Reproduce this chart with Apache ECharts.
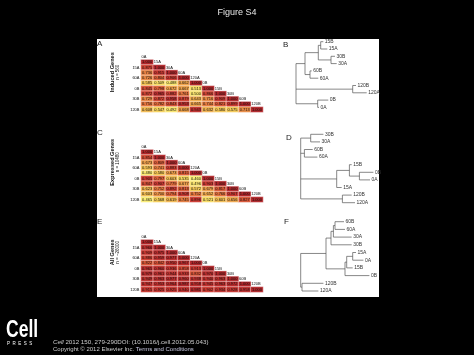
<!DOCTYPE html>
<html><head><meta charset="utf-8">
<script src="https://cdn.jsdelivr.net/npm/echarts@6/dist/echarts.min.js"></script>
<style>html,body{margin:0;padding:0;background:#000}#c{width:474px;height:355px}</style>
</head><body><div id="c"></div>
<script>
// ---------- data ----------
const samples = ['0A','15A','30A','60A','120A','0B','15B','30B','60B','120B'];
const induced = [
  [1.000],
  [0.875,1.000],
  [0.736,0.915,1.000],
  [0.726,0.804,0.906,1.000],
  [0.585,0.509,0.488,0.662,1.000],
  [0.845,0.798,0.672,0.667,0.513,1.000],
  [0.872,0.965,0.882,0.761,0.500,0.866,1.000],
  [0.729,0.872,0.958,0.879,0.643,0.716,0.909,1.000],
  [0.756,0.782,0.843,0.953,0.665,0.744,0.821,0.899,1.000],
  [0.608,0.547,0.492,0.668,0.943,0.632,0.580,0.575,0.713,1.000]
];
const expressed = [
  [1.000],
  [0.854,1.000],
  [0.673,0.809,1.000],
  [0.593,0.741,0.883,1.000],
  [0.480,0.580,0.673,0.815,1.000],
  [0.905,0.797,0.603,0.535,0.460,1.000],
  [0.847,0.907,0.779,0.677,0.496,0.903,1.000],
  [0.623,0.752,0.892,0.813,0.572,0.679,0.817,1.000],
  [0.603,0.700,0.794,0.908,0.752,0.652,0.766,0.907,1.000],
  [0.465,0.568,0.619,0.745,0.896,0.521,0.601,0.656,0.827,1.000]
];
const allGenes = [
  [1.000],
  [0.966,1.000],
  [0.909,0.975,1.000],
  [0.886,0.959,0.977,1.000],
  [0.822,0.842,0.950,0.967,1.000],
  [0.965,0.960,0.936,0.858,0.913,1.000],
  [0.979,0.961,0.944,0.933,0.832,0.970,1.000],
  [0.949,0.963,0.977,0.960,0.938,0.940,0.963,1.000],
  [0.947,0.953,0.964,0.987,0.958,0.945,0.963,0.972,1.000],
  [0.915,0.925,0.925,0.940,0.981,0.902,0.934,0.928,0.958,1.000]
];
const panelTitles = ['Induced Genes','Expressed Genes','All Genes'];
const panelCounts = ['n = 560','n = 10480','n = ~26000'];

// dendrograms: leaves (top to bottom), leaf depths, merges (children) with merge depths
const treeB_leaves = ['15B','15A','30B','30A','60B','60A','120B','120A','0B','0A'];
const treeB_leafDepth = [27.3,31.3,39,40.7,15.7,22.3,60,70.7,32.3,23];
const treeB_children = [[0,1],[2,3],[10,11],[4,5],[12,13],[6,7],[8,9],[14,15,16]];
const treeB_heights = [24.7,35,22.3,14,9,56.7,21.7,0];

const treeD_leaves = ['30B','30A','60B','60A','15B','0B','0A','15A','120B','120A'];
const treeD_leafDepth = [22.7,19.3,12,16.7,51,72.7,69.3,41,51,54.3];
const treeD_children = [[0,1],[2,3],[5,6],[4,12],[13,7],[8,9],[10,11,14,15]];
const treeD_heights = [10,3.7,58.7,48.7,36,41.7,0];

const treeF_leaves = ['60B','60A','30A','30B','15A','0A','15B','0B','120B','120A'];
const treeF_leafDepth = [43.3,44.3,51,51,55.3,62.7,52,68.7,22.7,17.7];
const treeF_children = [[0,1],[10,2],[11,3],[4,5],[13,6],[14,7],[12,15],[8,9],[16,17]];
const treeF_heights = [34.3,32.7,30.3,52,46,44.3,25.3,1.3,0];

// ---------- chart ----------
const FONT = '"Liberation Sans", Arial, sans-serif';
const chart = echarts.init(document.getElementById('c'));
const grids = [], xAxes = [], yAxes = [], series = [];

const blocks = [induced, expressed, allGenes];
const blockTop = [54.4, 144.4, 234.4];
const rowH = 5.25;
blocks.forEach((mat, k) => {
  grids.push({left: 141, top: blockTop[k], width: 122, height: rowH * 11});
  xAxes.push({type: 'category', gridIndex: k, data: samples, show: false});
  yAxes.push({
    type: 'category', gridIndex: k, data: [''].concat(samples), inverse: true,
    axisLine: {show: false}, axisTick: {show: false}, splitLine: {show: false},
    axisLabel: {fontSize: 4, margin: 1.5, color: '#111', fontFamily: FONT},
    name: '{t|' + panelTitles[k] + '}\n{n|' + panelCounts[k] + '}',
    nameLocation: 'middle', nameRotate: 90, nameGap: 20,
    nameTextStyle: {fontFamily: FONT, padding: [0, 0, 0, 22], rich: {
      t: {fontSize: 5.6, fontWeight: 'bold', color: '#111', fontFamily: FONT, lineHeight: 6.5},
      n: {fontSize: 4.5, color: '#111', fontFamily: FONT, lineHeight: 5.5}}}
  });
  const data = [];
  mat.forEach((row, i) => row.forEach((v, j) => data.push([j, i + 1, v])));
  series.push({
    type: 'heatmap', xAxisIndex: k, yAxisIndex: k, data,
    label: {show: true, fontSize: 4, color: '#111', fontFamily: FONT,
      formatter: p => p.value[2].toFixed(3)},
    itemStyle: {borderColor: '#fff', borderWidth: 0.4}
  });
  series.push({
    type: 'custom', xAxisIndex: k, yAxisIndex: k,
    data: samples.map((s, j) => [j, j]),
    renderItem: (params, api) => {
      const c = api.coord([api.value(0), api.value(1)]);
      const sz = api.size([1, 1]);
      return {type: 'text', style: {text: samples[params.dataIndex], x: c[0] - sz[0] / 2 + 0.5, y: c[1],
        verticalAlign: 'middle', align: 'left', fontSize: 4, fill: '#111', fontFamily: FONT}};
    }
  });
});

function treeSegs(leafDepth, children, heights) {
  const X = leafDepth.slice(), Y = leafDepth.map((_, i) => i), segs = [];
  children.forEach((kids, m) => {
    const d = heights[m];
    const ys = kids.map(c => Y[c]);
    const y0 = Math.min(...ys), y1 = Math.max(...ys);
    segs.push([d, y0, d, y1]);
    kids.forEach(c => segs.push([d, Y[c], X[c], Y[c]]));
    X.push(d); Y.push((y0 + y1) / 2);
  });
  return segs;
}

const trees = [
  {leaves: treeB_leaves, depth: treeB_leafDepth, ch: treeB_children, h: treeB_heights, left: 296, top: 41.7, step: 7.3},
  {leaves: treeD_leaves, depth: treeD_leafDepth, ch: treeD_children, h: treeD_heights, left: 300.7, top: 134.3, step: 7.6},
  {leaves: treeF_leaves, depth: treeF_leafDepth, ch: treeF_children, h: treeF_heights, left: 300.7, top: 221.7, step: 7.7}
];
trees.forEach((t, i) => {
  const g = 3 + i;
  grids.push({left: t.left, top: t.top, width: 80, height: t.step * 9});
  xAxes.push({type: 'value', gridIndex: g, min: 0, max: 80, show: false});
  yAxes.push({type: 'value', gridIndex: g, min: 0, max: 9, inverse: true, show: false});
  series.push({
    type: 'custom', xAxisIndex: g, yAxisIndex: g,
    data: treeSegs(t.depth, t.ch, t.h),
    renderItem: (params, api) => {
      const a = api.coord([api.value(0), api.value(1)]);
      const b = api.coord([api.value(2), api.value(3)]);
      return {type: 'line', shape: {x1: a[0], y1: a[1], x2: b[0], y2: b[1]},
        style: {stroke: '#555', lineWidth: 0.7}};
    }
  });
  series.push({
    type: 'custom', xAxisIndex: g, yAxisIndex: g,
    data: t.depth.map((d, j) => [d, j]),
    renderItem: (params, api) => {
      const c = api.coord([api.value(0), api.value(1)]);
      return {type: 'text', style: {text: t.leaves[params.dataIndex], x: c[0] + 1.5, y: c[1],
        verticalAlign: 'middle', align: 'left', fontSize: 5, fill: '#333', fontFamily: FONT}};
    }
  });
});

const letter = (s, x, y) => ({type: 'text', left: x, top: y, z: 10,
  style: {text: s, fontSize: 8, fill: '#222', fontFamily: FONT}});

chart.setOption({
  backgroundColor: '#000',
  animation: false,
  title: {text: 'Figure S4', left: 'center', top: 8, padding: 0,
    textStyle: {color: '#e6e6e6', fontSize: 9, fontWeight: 'normal', fontFamily: FONT}},
  grid: grids, xAxis: xAxes, yAxis: yAxes,
  visualMap: {show: false, type: 'continuous', seriesIndex: [0, 2, 4], min: 0.45, max: 1,
    inRange: {color: ['#fbf27a', '#f5cf58', '#eea04a', '#e0693a', '#cf3b31', '#b2262a']}},
  graphic: [
    {type: 'rect', left: 97, top: 39, z: -10, shape: {width: 282, height: 258}, style: {fill: '#fff'}},
    letter('A', 97, 40), letter('C', 97, 129), letter('E', 97, 218),
    letter('B', 283, 41), letter('D', 286, 134), letter('F', 284, 218),
    {type: 'text', x: 6, y: 318, scaleX: 0.73, style: {text: 'Cell', fontSize: 24, fontWeight: 'bold', fill: '#fff', fontFamily: FONT}},
    {type: 'text', left: 7, top: 341, style: {text: 'P  R  E  S  S', fontSize: 4.5, fill: '#fff', fontFamily: FONT}},
    {type: 'text', left: 53, top: 339, style: {
      text: '{i|Cell} 2012 150, 279-290DOI: (10.1016/j.cell.2012.05.043)', fontSize: 6.2, fill: '#ccc', fontFamily: FONT,
      rich: {i: {fontStyle: 'italic', fontSize: 6.2, fill: '#ccc', fontFamily: FONT}}}},
    {type: 'text', left: 53, top: 346, style: {
      text: 'Copyright © 2012 Elsevier Inc. {u|Terms and Conditions}', fontSize: 6, fill: '#ccc', fontFamily: FONT,
      rich: {u: {fontSize: 6, fill: '#c8c8e0', fontFamily: FONT, textDecoration: 'underline'}}}}
  ],
  series
});
</script>
</body></html>
